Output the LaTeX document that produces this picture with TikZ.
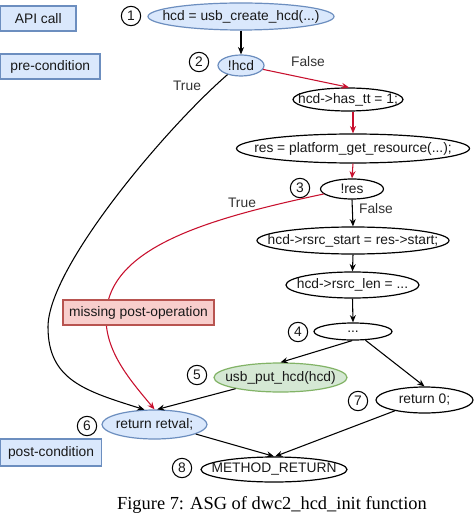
\documentclass[tikz,border=0pt]{standalone}
\usepackage{fontspec}
\setmainfont{Liberation Sans}
\newfontfamily\capfont{Liberation Serif}
\usetikzlibrary{arrows.meta,shapes.geometric}
\definecolor{bfill}{HTML}{DAE8FC}
\definecolor{bdraw}{HTML}{6C8EBF}
\definecolor{gfill}{HTML}{D5E8D4}
\definecolor{gdraw}{HTML}{82B366}
\definecolor{rfill}{HTML}{F8CECC}
\definecolor{rdraw}{HTML}{B85450}
\definecolor{redge}{HTML}{C8102E}
\newcommand{\zw}[1]{\makebox[0pt][c]{#1}}
\begin{document}
\begin{tikzpicture}[x=0.75pt,y=-0.75pt,
  every node/.style={font=\fontsize{10.35pt}{12pt}\selectfont, inner sep=0pt, text=black!90},
  sz/.style n args={2}{minimum width=#1*0.75pt, minimum height=#2*0.75pt},
  ell/.style={ellipse, draw=black, line width=0.9pt},
  blueell/.style={ell, fill=bfill, draw=bdraw},
  greenell/.style={ell, fill=gfill, draw=gdraw},
  legend/.style={rectangle, draw=bdraw, fill=bfill, line width=0.8pt},
  missing/.style={rectangle, draw=rdraw, fill=rfill, line width=0.8pt},
  num/.style={circle, draw=black, line width=0.8pt, minimum size=14.5pt},
  edge/.style={line width=0.8pt, draw=black, -{Stealth[length=5.5pt,width=4.5pt]}},
  redarrow/.style={edge, draw=redge, -{Stealth[length=5.5pt,width=4.5pt,fill=redge]}},
  lbl/.style={text=black!80}
]
\useasboundingbox (0,0) rectangle (474,513);
\fill[white] (0,0) rectangle (474,513);

% legend boxes
\node[legend, sz={75.5}{25}] (api) at (38.25,18.5) {API call};
\node[legend, sz={99.5}{25}] (pre) at (50.25,66.5) {pre-condition};
\node[legend, sz={101}{27}] (post) at (51,452.5) {post-condition};

% graph nodes
\node[blueell, sz={186}{27}] (n1) at (241,16.5) {\zw{hcd = usb\_create\_hcd(...)}};
\node[num] (c1) at (131,16) {1};
\node[blueell, sz={46}{21}] (n2) at (241,65.5) {\zw{!hcd}};
\node[num] (c2) at (199,62) {2};
\node[ell, sz={110}{23}] (hastt) at (348,99.5) {\zw{hcd->has\_tt = 1;}};
\node[ell, sz={233}{29}] (res) at (353,148.5) {\zw{res = platform\_get\_resource(...);}};
\node[ell, sz={63}{20}] (n3) at (352,189) {\zw{!res}};
\node[num] (c3) at (300,188) {3};
\node[ell, sz={192}{27}] (start) at (353,240.5) {\zw{hcd->rsrc\_start = res->start;}};
\node[ell, sz={133}{26}] (len) at (352.5,285) {\zw{hcd->rsrc\_len = ...}};
\node[ell, sz={78}{17}] (n4) at (353,331.5) {\zw{...}};
\node[num] (c4) at (298,332) {4};
\node[greenell, sz={133}{29}] (n5) at (280.5,377.5) {\zw{usb\_put\_hcd(hcd)}};
\node[num] (c5) at (197,375) {5};
\node[ell, sz={97}{26}] (n7) at (424.5,400) {\zw{return 0;}};
\node[num] (c7) at (358,401) {7};
\node[blueell, sz={105}{29}] (n6) at (154.5,424.5) {\zw{return retval;}};
\node[num] (c6) at (87,426) {6};
\node[ell, sz={146}{25}] (n8) at (274,469.5) {\zw{METHOD\_RETURN}};
\node[num] (c8) at (182,468) {8};

% edge labels
\node[lbl] (lf1) at (308,62) {False};
\node[lbl] (lt1) at (187,86) {True};
\node[lbl] (lt2) at (242,203) {True};
\node[lbl] (lf2) at (376,209) {False};

% straight edges
\draw[edge] (n1.south) -- (n2.north);
\draw[redarrow] (n2.-10) -- (hastt.85);
\draw[redarrow] (res.north |- hastt.south) -- (res.north);
\draw[redarrow] (res.south) -- (n3.north);
\draw[edge] (n3.south) -- (start.north);
\draw[edge] (start.south) -- (len.north);
\draw[edge] (len.south) -- (n4.north);
\draw[edge] (n4.265) -- (n5.north);
\draw[edge] (n4.-35) -- (n7.north);
\draw[edge] (n5.194) -- (n6.80);
\draw[edge] (n6.-13) -- (n8.north);
\draw[edge] (n7.200) -- (n8.85);

% curved edges
\coordinate (bmid) at (48,327);
\coordinate (rmid) at (106,318);
\draw[edge] (n2.214) .. controls (167,127) and (48,267) .. (bmid)
  .. controls (48,380) and (85,391) .. (n6.124);
\draw[redarrow] (n3.190) .. controls (206,219) and (106,248) .. (rmid)
  .. controls (106,353) and (131,381) .. (n6.north);

% missing post-operation box on top
\node[missing, sz={151}{25}] (miss) at (138.5,312.5) {missing post-operation};

% caption
\node[anchor=base, font=\capfont\fontsize{13.8pt}{16pt}\selectfont, text=black] (cap) at (272,509) {Figure 7: ASG of dwc2\_hcd\_init function};
\end{tikzpicture}
\end{document}
